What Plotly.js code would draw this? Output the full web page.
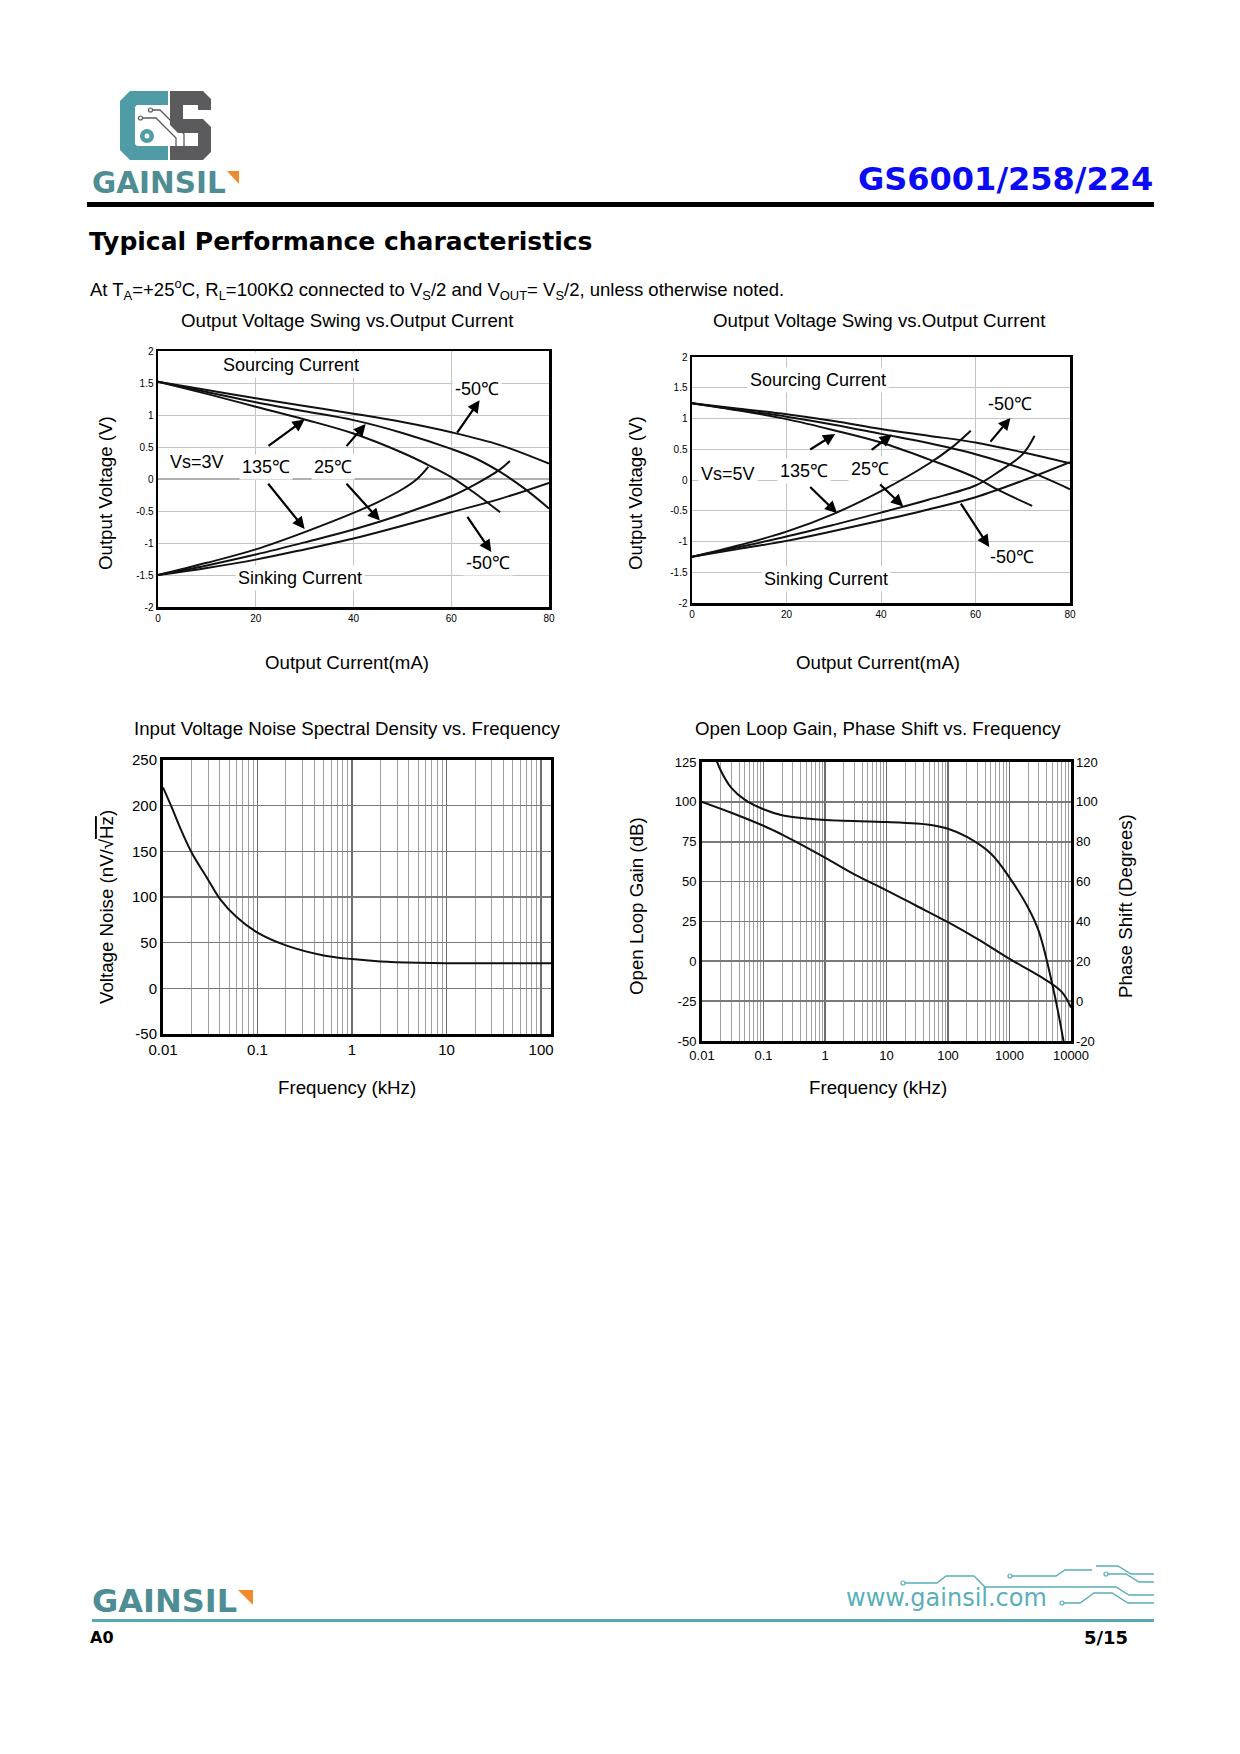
<!DOCTYPE html>
<html>
<head>
<meta charset="utf-8">
<script src="https://cdn.plot.ly/plotly-3.0.1.min.js"></script>
<style>
html,body{margin:0;padding:0;background:#fff;}
#page{width:1240px;height:1754px;}
</style>
</head>
<body>
<div id="page"></div>
<script>
// ---------------- DATA ----------------
// Chart 1 : Vs = 3V, output current (mA) vs output voltage (V)
const src3_m50_I = [0, 10, 20, 30, 40, 50, 60, 70, 80];
const src3_m50_V = [1.52, 1.39, 1.26, 1.14, 1.02, 0.89, 0.73, 0.53, 0.24];
const src3_25_I  = [0, 10, 20, 30, 40, 50, 60, 65, 70, 75, 80];
const src3_25_V  = [1.52, 1.36, 1.2, 1.06, 0.92, 0.72, 0.47, 0.32, 0.11, -0.15, -0.46];
const src3_135_I = [0, 10, 20, 30, 40, 50, 55, 60, 65, 70];
const src3_135_V = [1.52, 1.33, 1.13, 0.93, 0.71, 0.41, 0.23, 0.03, -0.23, -0.52];
const snk3_135_I = [0, 10, 20, 30, 40, 45, 50, 53, 55.3];
const snk3_135_V = [-1.5, -1.31, -1.1, -0.83, -0.53, -0.36, -0.16, 0.0, 0.19];
const snk3_25_I  = [0, 10, 20, 30, 40, 50, 60, 65, 70, 72];
const snk3_25_V  = [-1.5, -1.35, -1.18, -0.99, -0.79, -0.55, -0.27, -0.08, 0.15, 0.28];
const snk3_m50_I = [0, 10, 20, 30, 40, 50, 60, 70, 80];
const snk3_m50_V = [-1.5, -1.39, -1.26, -1.1, -0.93, -0.73, -0.52, -0.31, -0.06];

// Chart 2 : Vs = 5V
const src5_m50_I = [0, 10, 20, 30, 40, 50, 60, 70, 80];
const src5_m50_V = [1.25, 1.16, 1.07, 0.96, 0.83, 0.72, 0.61, 0.45, 0.27];
const src5_25_I  = [0, 10, 20, 30, 40, 50, 60, 70, 80];
const src5_25_V  = [1.25, 1.14, 1.03, 0.9, 0.75, 0.6, 0.42, 0.18, -0.15];
const src5_135_I = [0, 10, 20, 30, 40, 50, 60, 65, 72];
const src5_135_V = [1.25, 1.13, 0.99, 0.81, 0.61, 0.34, 0.04, -0.17, -0.42];
const snk5_135_I = [0, 10, 20, 30, 40, 50, 55, 59];
const snk5_135_V = [-1.25, -1.06, -0.84, -0.55, -0.18, 0.26, 0.53, 0.8];
const snk5_25_I  = [0, 10, 20, 30, 40, 50, 60, 65, 70, 72.5];
const snk5_25_V  = [-1.25, -1.09, -0.92, -0.73, -0.53, -0.32, -0.09, 0.14, 0.42, 0.72];
const snk5_m50_I = [0, 10, 20, 30, 40, 50, 60, 70, 80];
const snk5_m50_V = [-1.25, -1.12, -0.99, -0.83, -0.66, -0.48, -0.28, -0.01, 0.29];

// Chart 3 : input voltage noise density
const noiseFreq = [0.01, 0.0125, 0.015, 0.02, 0.03, 0.04, 0.06, 0.1, 0.2, 0.5, 1, 2, 5, 10, 130];
const noiseVal  = [220, 197, 177, 149, 119, 98, 78, 61, 47, 36, 32, 29.5, 28, 27.5, 27.5];

// Chart 4 : open loop gain & phase
const gainFreq  = [0.01, 0.03, 0.1, 0.2, 0.3, 1, 3, 10, 30, 100, 300, 1000, 3000, 7000, 10000];
const gainDB    = [100, 93.2, 85, 79.5, 76, 65, 54.5, 44.5, 35, 24.5, 14, 1.5, -9, -19, -29];
const phaseFreq = [0.015, 0.02, 0.03, 0.05, 0.1, 0.2, 0.5, 1, 10, 30, 50, 100, 200, 500, 1000, 2000, 3000, 5000, 7500, 8500];
const phaseDeg  = [126, 116, 107, 101, 96.3, 93.3, 91.6, 90.9, 89.9, 89.2, 88.5, 86.5, 82.5, 74, 62, 47, 35, 8, -19.5, -30];

// Tick labels
const vTicks = [-2, -1.5, -1, -0.5, 0, 0.5, 1, 1.5, 2];
const iTicks = [0, 20, 40, 60, 80];
const noiseTicks = [-50, 0, 50, 100, 150, 200, 250];
const noiseFreqTicks = [0.01, 0.1, 1, 10, 100];
const gainTicks = [-50, -25, 0, 25, 50, 75, 100, 125];
const phaseTicks = [-20, 0, 20, 40, 60, 80, 100, 120];
const olFreqTicks = [0.01, 0.1, 1, 10, 100, 1000, 10000];

// ---------------- HELPERS ----------------
const W = 1240, H = 1754;
const px = x => x / W;
const py = y => 1 - y / H;
const dX = (a, b) => [px(a), px(b)];
const dY = (top, bot) => [py(bot), py(top)];
function path(pts, close) {
  return 'M' + pts.map(p => px(p[0]).toFixed(5) + ',' + py(p[1]).toFixed(5)).join('L') + (close ? 'Z' : '');
}
function minorLogTicks(d0, d1) {
  const out = [];
  for (let d = d0; d <= d1; d++) for (let k = 2; k <= 9; k++) out.push(k * Math.pow(10, d));
  return out;
}
const BASE = 'Liberation Sans, Arial, sans-serif';
const NARROW = 'Liberation Sans Narrow, Arial Narrow, Liberation Sans, Arial, sans-serif';
const HEAVY = 'DejaVu Sans, sans-serif';
const FS = 18.7;

function curve(x, y, xa, ya) {
  return {x: x, y: y, xaxis: xa, yaxis: ya, type: 'scatter', mode: 'lines',
          line: {color: '#111', width: 2, shape: 'spline', smoothing: 1},
          hoverinfo: 'skip', showlegend: false};
}

const traces = [
  curve(src3_m50_I, src3_m50_V, 'x', 'y'),
  curve(src3_25_I, src3_25_V, 'x', 'y'),
  curve(src3_135_I, src3_135_V, 'x', 'y'),
  curve(snk3_135_I, snk3_135_V, 'x', 'y'),
  curve(snk3_25_I, snk3_25_V, 'x', 'y'),
  curve(snk3_m50_I, snk3_m50_V, 'x', 'y'),
  curve(src5_m50_I, src5_m50_V, 'x2', 'y2'),
  curve(src5_25_I, src5_25_V, 'x2', 'y2'),
  curve(src5_135_I, src5_135_V, 'x2', 'y2'),
  curve(snk5_135_I, snk5_135_V, 'x2', 'y2'),
  curve(snk5_25_I, snk5_25_V, 'x2', 'y2'),
  curve(snk5_m50_I, snk5_m50_V, 'x2', 'y2'),
  curve(noiseFreq, noiseVal, 'x3', 'y3'),
  curve(gainFreq, gainDB, 'x4', 'y4'),
  curve(phaseFreq, phaseDeg, 'x4', 'y5')
];

function linAxis(domain, range, ticks, anchor, fs) {
  return {domain: domain, range: range, anchor: anchor, tickmode: 'array', tickvals: ticks,
          ticktext: ticks.map(String), ticks: '', showgrid: true, gridcolor: '#c4c4c4', gridwidth: 1,
          zeroline: false, showline: true, mirror: true, linecolor: '#000', linewidth: 2.5,
          tickfont: {family: BASE, size: fs, color: '#000'}, fixedrange: true};
}
function logAxis(domain, lo, hi, ticks, anchor, fs, d0, d1) {
  return {domain: domain, type: 'log', range: [lo, hi], anchor: anchor, tickmode: 'array', tickvals: ticks,
          ticktext: ticks.map(String), ticks: '', showgrid: true, gridcolor: '#6e6e6e', gridwidth: 1.6,
          minor: {tickmode: 'array', tickvals: minorLogTicks(d0, d1), showgrid: true, gridcolor: '#a0a0a0', gridwidth: 1, ticks: ''},
          zeroline: false, showline: true, mirror: true, linecolor: '#000', linewidth: 3,
          tickfont: {family: NARROW, size: fs, color: '#000'}, fixedrange: true};
}

const layout = {
  width: W, height: H, margin: {l: 0, r: 0, t: 0, b: 0},
  paper_bgcolor: '#fff', plot_bgcolor: '#fff', showlegend: false,
  font: {family: BASE, color: '#000'},
  xaxis: linAxis(dX(158, 549), [0, 80], iTicks, 'y', 10),
  yaxis: Object.assign(linAxis(dY(351, 607), [-2, 2], vTicks, 'x', 10),
          {zeroline: true, zerolinecolor: '#b0b0b0', zerolinewidth: 2}),
  xaxis2: linAxis(dX(692, 1070), [0, 80], iTicks, 'y2', 10),
  yaxis2: linAxis(dY(357, 603), [-2, 2], vTicks, 'x2', 10),
  xaxis3: logAxis(dX(163, 551), -2, 2.105, noiseFreqTicks, 'y3', 15, -2, 2),
  yaxis3: Object.assign(linAxis(dY(760, 1034), [-50, 250], noiseTicks, 'x3', 15),
          {gridcolor: '#7a7a7a', gridwidth: 1.6, linewidth: 3, tickfont: {family: NARROW, size: 15, color: '#000'}}),
  xaxis4: logAxis(dX(702, 1071), -2, 4, olFreqTicks, 'y4', 13, -2, 3),
  yaxis4: Object.assign(linAxis(dY(762, 1041), [-50, 125], gainTicks, 'x4', 13),
          {gridcolor: '#7a7a7a', gridwidth: 1.6, linewidth: 3, tickfont: {family: NARROW, size: 13, color: '#000'}}),
  yaxis5: {overlaying: 'y4', side: 'right', anchor: 'x4', range: [-20, 120], tickmode: 'array',
           tickvals: phaseTicks, ticktext: phaseTicks.map(String), ticks: '', showgrid: false,
           zeroline: false, showline: false, ticklabelstandoff: 4,
           tickfont: {family: NARROW, size: 13, color: '#000'}, fixedrange: true},
  annotations: [],
  shapes: []
};

const A = layout.annotations, S = layout.shapes;
function txt(text, x, y, opts) {
  A.push(Object.assign({text: text, x: px(x), y: py(y), xref: 'paper', yref: 'paper', showarrow: false,
    xanchor: 'center', yanchor: 'middle', font: {family: BASE, size: FS, color: '#000'}}, opts || {}));
}
function dataTxt(text, x, y, xr, yr, bg) {
  A.push({text: text, x: x, y: y, xref: xr, yref: yr, showarrow: false, xanchor: 'center', yanchor: 'middle',
    font: {family: BASE, size: 18, color: '#000'}, bgcolor: bg ? '#fff' : 'rgba(0,0,0,0)', borderpad: 2});
}
function arrow(x0, y0, x1, y1, xr, yr) {
  A.push({text: '', x: x1, y: y1, ax: x0, ay: y0, xref: xr, yref: yr, axref: xr, ayref: yr,
    showarrow: true, arrowhead: 2, arrowsize: 1.1, arrowwidth: 2.2, arrowcolor: '#000', standoff: 0});
}

// ---------- header ----------
txt('<b>GS6001/258/224</b>', 1155, 179, {xanchor: 'right', font: {family: HEAVY, size: 32, color: '#0a0af5'}});
txt('<b>Typical Performance characteristics</b>', 87, 242, {xanchor: 'left', font: {family: HEAVY, size: 25, color: '#000'}});
txt('At T<sub>A</sub>=+25<sup>o</sup>C, R<sub>L</sub>=100KΩ connected to V<sub>S</sub>/2 and V<sub>OUT</sub>= V<sub>S</sub>/2, unless otherwise noted.',
    88, 289, {xanchor: 'left', font: {family: BASE, size: 18.5, color: '#000'}});

S.push({type: 'rect', xref: 'paper', yref: 'paper', x0: px(87), x1: px(1154), y0: py(207), y1: py(202),
        fillcolor: '#000', line: {width: 0}});

// logo (header)
S.push({type: 'path', xref: 'paper', yref: 'paper', layer: 'above', fillcolor: '#4f9ca6', line: {width: 0},
  path: path([[130,91],[168,91],[168,105],[137,105],[135,107],[135,144],[137,146],[168,146],[168,160],[130,160],[120,150],[120,101]], true)});
S.push({type: 'path', xref: 'paper', yref: 'paper', layer: 'above', fillcolor: '#5b5b5d', line: {width: 0},
  path: path([[170,91],[203,91],[211,99],[211,110],[198,110],[198,105],[183,105],[183,119],[203,119],[211,127],[211,152],[203,160],[170,160],[170,146],[198,146],[198,133],[178,133],[170,125]], true)});
S.push({type: 'circle', xref: 'paper', yref: 'paper', layer: 'above', x0: px(140), x1: px(154), y0: py(143), y1: py(129),
  fillcolor: '#4f9ca6', line: {width: 0}});
S.push({type: 'circle', xref: 'paper', yref: 'paper', layer: 'above', x0: px(144.5), x1: px(149.5), y0: py(138.5), y1: py(133.5),
  fillcolor: '#fff', line: {width: 0}});
S.push({type: 'path', xref: 'paper', yref: 'paper', layer: 'above', line: {color: '#5b5b5d', width: 1.3},
  path: path([[152,110],[160,110],[184,134],[184,146],[190,152]], false)});
S.push({type: 'path', xref: 'paper', yref: 'paper', layer: 'above', line: {color: '#5b5b5d', width: 1.3},
  path: path([[142,118],[156,118],[176,138],[176,150]], false)});
S.push({type: 'circle', xref: 'paper', yref: 'paper', layer: 'above', x0: px(148.5), x1: px(152.5), y0: py(112), y1: py(108),
  fillcolor: '#fff', line: {color: '#5b5b5d', width: 1.2}});
S.push({type: 'circle', xref: 'paper', yref: 'paper', layer: 'above', x0: px(138.5), x1: px(142.5), y0: py(120), y1: py(116),
  fillcolor: '#fff', line: {color: '#5b5b5d', width: 1.2}});
txt('<b>GAINSIL</b>', 90, 183, {xanchor: 'left', font: {family: HEAVY, size: 29.5, color: '#4f8d94'}});
S.push({type: 'path', xref: 'paper', yref: 'paper', layer: 'above', fillcolor: '#f08a2c', line: {width: 0},
  path: path([[227,171],[239,171],[239,184]], true)});

// ---------- chart titles & axis titles ----------
txt('Output Voltage Swing vs.Output Current', 347, 321);
txt('Output Voltage Swing vs.Output Current', 879, 321);
txt('Output Voltage (V)', 105, 493, {textangle: -90});
txt('Output Voltage (V)', 635, 493, {textangle: -90});
txt('Output Current(mA)', 347, 663);
txt('Output Current(mA)', 878, 663);
txt('Input Voltage Noise Spectral Density vs. Frequency', 347, 728);
txt('Open Loop Gain, Phase Shift vs. Frequency', 878, 728);
txt('Voltage Noise (nV/√<span style="text-decoration:overline">Hz</span>)', 106, 907, {textangle: -90});
txt('Frequency (kHz)', 347, 1087);
txt('Open Loop Gain (dB)', 636, 906, {textangle: -90});
txt('Phase Shift (Degrees)', 1125, 906, {textangle: -90});
txt('Frequency (kHz)', 878, 1087);

// ---------- chart 1 labels ----------
dataTxt('Sourcing Current', 27.2, 1.78, 'x', 'y', true);
dataTxt('Sinking Current', 29.1, -1.54, 'x', 'y', true);
dataTxt('Vs=3V', 8, 0.27, 'x', 'y', false);
dataTxt('135℃', 22, 0.19, 'x', 'y', true);
dataTxt('25℃', 35.9, 0.19, 'x', 'y', true);
dataTxt('-50℃', 65.2, 1.41, 'x', 'y', true);
dataTxt('-50℃', 67.5, -1.32, 'x', 'y', true);
arrow(22.3, 0.5, 30, 0.93, 'x', 'y');
arrow(22.3, -0.05, 30, -0.78, 'x', 'y');
arrow(38.3, 0.49, 42.5, 0.86, 'x', 'y');
arrow(38.3, -0.05, 45.4, -0.65, 'x', 'y');
arrow(61, 0.7, 65.8, 1.23, 'x', 'y');
arrow(63.1, -0.57, 68.2, -1.14, 'x', 'y');

// ---------- chart 2 labels ----------
dataTxt('Sourcing Current', 26.6, 1.63, 'x2', 'y2', true);
dataTxt('Sinking Current', 28.4, -1.61, 'x2', 'y2', true);
dataTxt('Vs=5V', 7.6, 0.1, 'x2', 'y2', true);
dataTxt('135℃', 23.6, 0.15, 'x2', 'y2', true);
dataTxt('25℃', 37.7, 0.18, 'x2', 'y2', true);
dataTxt('-50℃', 67.3, 1.23, 'x2', 'y2', true);
dataTxt('-50℃', 67.7, -1.25, 'x2', 'y2', true);
arrow(24.7, 0.48, 30.3, 0.75, 'x2', 'y2');
arrow(24.7, -0.09, 30.7, -0.54, 'x2', 'y2');
arrow(37.7, 0.47, 42.3, 0.74, 'x2', 'y2');
arrow(39.5, -0.05, 44.7, -0.43, 'x2', 'y2');
arrow(62.9, 0.6, 67.4, 1.01, 'x2', 'y2');
arrow(56.7, -0.36, 62.9, -1.09, 'x2', 'y2');

// ---------- footer ----------
txt('<b>GAINSIL</b>', 90, 1601, {xanchor: 'left', font: {family: HEAVY, size: 32, color: '#4f8d94'}});
S.push({type: 'path', xref: 'paper', yref: 'paper', layer: 'above', fillcolor: '#f08a2c', line: {width: 0},
  path: path([[238,1590],[253,1590],[253,1605]], true)});
S.push({type: 'rect', xref: 'paper', yref: 'paper', x0: px(92), x1: px(1154), y0: py(1622), y1: py(1619),
        fillcolor: '#5aa9b2', line: {width: 0}});
txt('www.gainsil.com', 844, 1598, {xanchor: 'left', font: {family: HEAVY, size: 24, color: '#5aafb8'}});
const circuitLines = [
  [[1096,1566],[1118,1566],[1131,1574],[1154,1574]],
  [[1108,1574],[1126,1574],[1139,1582],[1154,1582]],
  [[1012,1576],[1056,1576],[1065,1570],[1092,1570]],
  [[905,1583],[937,1583],[946,1576],[974,1576],[985,1587],[1116,1587],[1129,1595],[1154,1595]],
  [[1064,1603],[1080,1603],[1094,1593],[1112,1593],[1128,1603],[1154,1603]]
];
circuitLines.forEach(l => S.push({type: 'path', xref: 'paper', yref: 'paper', layer: 'above',
  line: {color: '#5aafb8', width: 1.4}, path: path(l, false)}));
[[1106,1574],[1010,1576],[903,1583],[1062,1603]].forEach(c => S.push({type: 'circle', xref: 'paper', yref: 'paper', layer: 'above',
  x0: px(c[0]-2), x1: px(c[0]+2), y0: py(c[1]+2), y1: py(c[1]-2), fillcolor: '#fff', line: {color: '#5aafb8', width: 1.2}}));
txt('<b>A0</b>', 88, 1637, {xanchor: 'left', font: {family: HEAVY, size: 16, color: '#000'}});
txt('<b>5/15</b>', 1130, 1637, {xanchor: 'right', font: {family: HEAVY, size: 18, color: '#000'}});

Plotly.newPlot('page', traces, layout, {staticPlot: true, displayModeBar: false});
</script>
</body>
</html>
